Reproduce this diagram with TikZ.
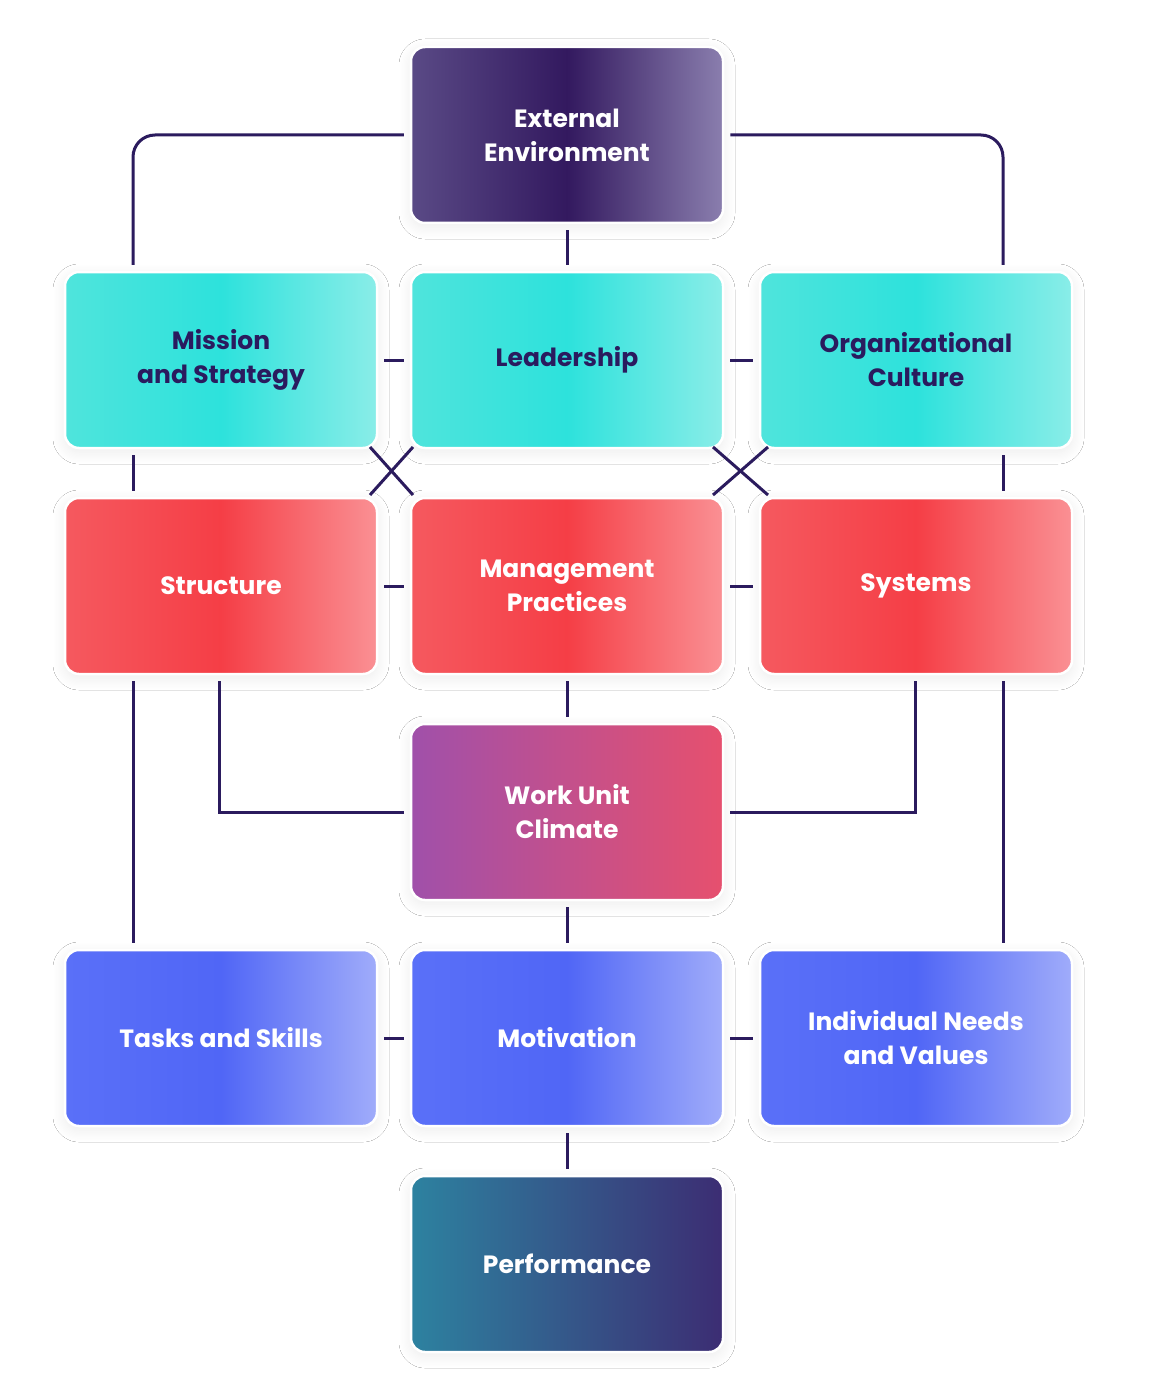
\documentclass[tikz,border=0pt]{standalone}
\usepackage{fontspec}
\setsansfont{Poppins}
\usetikzlibrary{shadows.blur}
\definecolor{ln}{HTML}{2B1B5E}
\definecolor{dtext}{HTML}{2A1B5E}
\definecolor{shd}{HTML}{6A5AA0}
\definecolor{extL}{HTML}{5A4A86}\definecolor{extM}{HTML}{33195F}\definecolor{extR}{HTML}{8A7EAE}
\definecolor{tlL}{HTML}{4FE4DC}\definecolor{tlM}{HTML}{2DE2DC}\definecolor{tlR}{HTML}{8AEDE8}
\definecolor{rdL}{HTML}{F5595F}\definecolor{rdM}{HTML}{F53E46}\definecolor{rdR}{HTML}{FA9094}
\definecolor{wuL}{HTML}{A050AA}\definecolor{wuR}{HTML}{E6506E}
\definecolor{blL}{HTML}{5A70F8}\definecolor{blM}{HTML}{5066F6}\definecolor{blR}{HTML}{A0ACFA}
\definecolor{pfL}{HTML}{2D82A0}\definecolor{pfR}{HTML}{3C2D73}
\tikzset{
 mybox/.style={draw=white,line width=2.5pt,rounded corners=14pt,minimum width=312pt,minimum height=176pt,
   align=center,font=\sffamily\bfseries\fontsize{25}{34}\selectfont,text=white,
   blur shadow={shadow blur steps=20,shadow xshift=0pt,shadow yshift=-4pt,shadow opacity=8,shadow blur radius=12pt,shadow blur extra rounding=10pt,fill=shd}},
 extbox/.style={mybox,shading=axis,shading angle=90,left color=extL,right color=extR,middle color=extM},
 tealbox/.style={mybox,text=dtext,shading=axis,shading angle=90,left color=tlL,right color=tlR,middle color=tlM},
 redbox/.style={mybox,shading=axis,shading angle=90,left color=rdL,right color=rdR,middle color=rdM},
 workbox/.style={mybox,shading=axis,shading angle=45,left color=wuL,right color=wuR},
 bluebox/.style={mybox,shading=axis,shading angle=90,left color=blL,right color=blR,middle color=blM},
 perfbox/.style={mybox,shading=axis,shading angle=45,left color=pfL,right color=pfR},
 conn/.style={draw=ln,line width=3pt},
}
\begin{document}
\begin{tikzpicture}[x=1pt,y=-1pt]
\useasboundingbox[fill=white] (0,0) rectangle (1154,1388);
\node[extbox] (ext) at (567,135) {External\\Environment};
\node[tealbox] (mis) at (221,360) {Mission\\and Strategy};
\node[tealbox] (lead) at (567,360) {Leadership};
\node[tealbox] (org) at (916,360) {Organizational\\Culture};
\node[redbox] (str) at (221,586) {Structure};
\node[redbox] (man) at (567,586) {Management\\Practices};
\node[redbox] (sys) at (916,586) {Systems};
\node[workbox] (wu) at (567,812) {Work Unit\\Climate};
\node[bluebox] (task) at (221,1038) {Tasks and Skills};
\node[bluebox] (mot) at (567,1038) {Motivation};
\node[bluebox] (ind) at (916,1038) {Individual Needs\\and Values};
\node[perfbox] (perf) at (567,1264) {Performance};
\coordinate (x1a) at (370,495); \coordinate (x1b) at (413,447);
\coordinate (x1c) at (370,447); \coordinate (x1d) at (413,495);
\coordinate (x2a) at (713,495); \coordinate (x2b) at (768,447);
\coordinate (x2c) at (713,447); \coordinate (x2d) at (768,495);
\draw[conn,rounded corners=22pt] ([xshift=-6pt]ext.west) -| ([xshift=-88pt,yshift=6pt]mis.north);
\draw[conn,rounded corners=22pt] ([xshift=6pt]ext.east) -| ([xshift=87pt,yshift=6pt]org.north);
\draw[conn] ([yshift=-6pt]ext.south) -- ([yshift=6pt]lead.north);
\draw[conn] ([xshift=6pt]mis.east) -- ([xshift=-6pt]lead.west);
\draw[conn] ([xshift=6pt]lead.east) -- ([xshift=-6pt]org.west);
\draw[conn] ([xshift=-88pt,yshift=-6pt]mis.south) -- ([xshift=-88pt,yshift=6pt]str.north);
\draw[conn] ([xshift=87pt,yshift=-6pt]org.south) -- ([xshift=87pt,yshift=6pt]sys.north);
\draw[conn] (x1a) -- (x1b); \draw[conn] (x1c) -- (x1d);
\draw[conn] (x2a) -- (x2b); \draw[conn] (x2c) -- (x2d);
\draw[conn] ([xshift=6pt]str.east) -- ([xshift=-6pt]man.west);
\draw[conn] ([xshift=6pt]man.east) -- ([xshift=-6pt]sys.west);
\draw[conn] ([yshift=-6pt]man.south) -- ([yshift=6pt]wu.north);
\draw[conn] ([xshift=-2pt,yshift=-6pt]str.south) |- ([xshift=-6pt]wu.west);
\draw[conn] ([xshift=-1pt,yshift=-6pt]sys.south) |- ([xshift=6pt]wu.east);
\draw[conn] ([xshift=-88pt,yshift=-6pt]str.south) -- ([xshift=-88pt,yshift=6pt]task.north);
\draw[conn] ([xshift=87pt,yshift=-6pt]sys.south) -- ([xshift=87pt,yshift=6pt]ind.north);
\draw[conn] ([yshift=-6pt]wu.south) -- ([yshift=6pt]mot.north);
\draw[conn] ([xshift=6pt]task.east) -- ([xshift=-6pt]mot.west);
\draw[conn] ([xshift=6pt]mot.east) -- ([xshift=-6pt]ind.west);
\draw[conn] ([yshift=-6pt]mot.south) -- ([yshift=6pt]perf.north);
\end{tikzpicture}
\end{document}
